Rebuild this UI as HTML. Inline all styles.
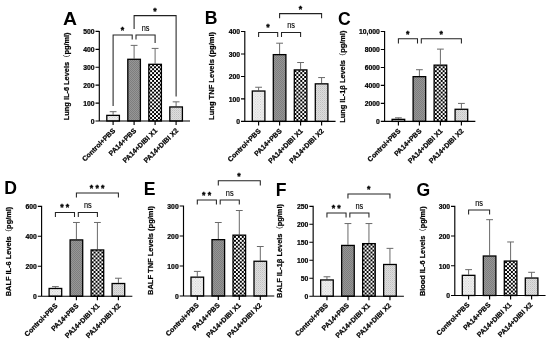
<!DOCTYPE html>
<html><head><meta charset="utf-8"><title>Figure</title>
<style>
html,body{margin:0;padding:0;background:#fff;}
body{width:550px;height:343px;overflow:hidden;}
svg{display:block;}
text{font-family:"Liberation Sans","Noto Sans CJK SC",sans-serif;fill:#000;}
.b{font-weight:bold;}
.s{stroke:#000;stroke-width:0.22;}
.ax{stroke:#000;stroke-width:1.15;fill:none;}
.er{stroke:#6a6a6a;stroke-width:1;fill:none;}
.br{stroke:#222;stroke-width:1.05;fill:none;}
.bar{stroke:#000;stroke-width:1.3;}
.st{stroke:#000;stroke-width:0.35;}
.fw{font-weight:normal;stroke:none;}
.ns{stroke:#000;stroke-width:0.12;}
</style></head><body>
<svg width="550" height="343" viewBox="0 0 550 343">
<defs>
<pattern id="p1" width="2.6" height="2.6" patternUnits="userSpaceOnUse"><rect width="2.6" height="2.6" fill="#f6f6f6"/><rect width="1" height="1" fill="#c4c4c4"/><rect x="1.3" y="1.3" width="1" height="1" fill="#c4c4c4"/></pattern>
<pattern id="p2" width="2" height="2" patternUnits="userSpaceOnUse"><rect width="2" height="2" fill="#969696"/><rect width="1" height="1" fill="#7e7e7e"/><rect x="1" y="1" width="1" height="1" fill="#7e7e7e"/></pattern>
<pattern id="p3" width="3.9" height="3.9" patternUnits="userSpaceOnUse"><rect width="3.9" height="3.9" fill="#000"/><rect width="1.95" height="1.95" fill="#fff"/><rect x="1.95" y="1.95" width="1.95" height="1.95" fill="#fff"/></pattern>
<pattern id="p4" width="2" height="2" patternUnits="userSpaceOnUse"><rect width="2" height="2" fill="#dedede"/><rect width="1" height="1" fill="#c2c2c2"/><rect x="1" y="1" width="1" height="1" fill="#cfcfcf"/></pattern>
</defs>
<rect width="550" height="343" fill="#fff"/>

<g>
<text class="b" transform="translate(62.9,24.8) scale(1.1,1)" font-size="17.6">A</text>
<text class="b s" transform="translate(69.2,120.15) rotate(-90)" font-size="7.38">Lung IL-6 Levels<tspan class="fw">（</tspan>pg/ml)</text>
<path class="er" d="M113.1 114.73V111.68M109.7 111.68H116.5"/>
<path class="er" d="M134.1 58.64V45.38M130.7 45.38H137.5"/>
<path class="er" d="M155.1 63.66V48.42M151.7 48.42H158.5"/>
<path class="er" d="M176.1 106.31V101.83M172.7 101.83H179.5"/>
<rect class="bar" x="106.8" y="115.38" width="12.6" height="5.62" fill="url(#p1)"/>
<rect class="bar" x="127.8" y="59.29" width="12.6" height="61.71" fill="url(#p2)"/>
<rect class="bar" x="148.8" y="64.31" width="12.6" height="56.69" fill="url(#p3)"/>
<rect class="bar" x="169.8" y="106.96" width="12.6" height="14.04" fill="url(#p4)"/>
<path class="ax" d="M99.3 30.9V121H190.05M99.3 121H95.5M99.3 103.08H95.5M99.3 85.16H95.5M99.3 67.24H95.5M99.3 49.32H95.5M99.3 31.4H95.5M113.1 121V125M134.1 121V125M155.1 121V125M176.1 121V125"/>
<text class="b s" x="94.5" y="123.95" text-anchor="end" font-size="6.8">0</text>
<text class="b s" x="94.5" y="106.03" text-anchor="end" font-size="6.8">100</text>
<text class="b s" x="94.5" y="88.11" text-anchor="end" font-size="6.8">200</text>
<text class="b s" x="94.5" y="70.19" text-anchor="end" font-size="6.8">300</text>
<text class="b s" x="94.5" y="52.27" text-anchor="end" font-size="6.8">400</text>
<text class="b s" x="94.5" y="34.35" text-anchor="end" font-size="6.8">500</text>
<text class="b s" transform="translate(115.7,131.1) rotate(-45)" text-anchor="end" font-size="7">Control+PBS</text>
<text class="b s" transform="translate(136.7,131.1) rotate(-45)" text-anchor="end" font-size="7">PA14+PBS</text>
<text class="b s" transform="translate(157.7,131.1) rotate(-45)" text-anchor="end" font-size="7">PA14+DIBI X1</text>
<text class="b s" transform="translate(178.7,131.1) rotate(-45)" text-anchor="end" font-size="7">PA14+DIBI X2</text>
<path class="br" d="M113.1 106V35H132.2V39.4"/>
<text class="b st" x="122.4" y="33" text-anchor="middle" font-size="8.8">*</text>
<path class="br" d="M136 39.4V35H155.1V43"/>
<text class="ns" transform="translate(145.55,30.5) scale(0.9,1)" text-anchor="middle" font-size="8.2">ns</text>
<path class="br" d="M134.1 29V15.6H176.1V96.6"/>
<text class="b st" x="154.85" y="13.6" text-anchor="middle" font-size="8.8">*</text>
</g>
<g>
<text class="b" transform="translate(204.8,24.4) scale(1,1)" font-size="17.6">B</text>
<text class="b s" transform="translate(214.2,119.95) rotate(-90)" font-size="7.55">Lung TNF Levels (pg/ml)</text>
<path class="er" d="M258.6 90.38V87.24M255.2 87.24H262"/>
<path class="er" d="M279.6 53.98V43.19M276.2 43.19H283"/>
<path class="er" d="M300.6 69.26V62.52M297.2 62.52H304"/>
<path class="er" d="M321.6 83.19V77.57M318.2 77.57H325"/>
<rect class="bar" x="252.3" y="91.03" width="12.6" height="30.37" fill="url(#p1)"/>
<rect class="bar" x="273.3" y="54.63" width="12.6" height="66.77" fill="url(#p2)"/>
<rect class="bar" x="294.3" y="69.91" width="12.6" height="51.49" fill="url(#p3)"/>
<rect class="bar" x="315.3" y="83.84" width="12.6" height="37.56" fill="url(#p4)"/>
<path class="ax" d="M244.8 31V121.4H335.55M244.8 121.4H241M244.8 98.93H241M244.8 76.45H241M244.8 53.98H241M244.8 31.5H241M258.6 121.4V125.4M279.6 121.4V125.4M300.6 121.4V125.4M321.6 121.4V125.4"/>
<text class="b s" x="240" y="124.35" text-anchor="end" font-size="6.8">0</text>
<text class="b s" x="240" y="101.88" text-anchor="end" font-size="6.8">100</text>
<text class="b s" x="240" y="79.4" text-anchor="end" font-size="6.8">200</text>
<text class="b s" x="240" y="56.93" text-anchor="end" font-size="6.8">300</text>
<text class="b s" x="240" y="34.45" text-anchor="end" font-size="6.8">400</text>
<text class="b s" transform="translate(261.2,131.5) rotate(-45)" text-anchor="end" font-size="7">Control+PBS</text>
<text class="b s" transform="translate(282.2,131.5) rotate(-45)" text-anchor="end" font-size="7">PA14+PBS</text>
<text class="b s" transform="translate(303.2,131.5) rotate(-45)" text-anchor="end" font-size="7">PA14+DIBI X1</text>
<text class="b s" transform="translate(324.2,131.5) rotate(-45)" text-anchor="end" font-size="7">PA14+DIBI X2</text>
<path class="br" d="M258.6 37V32.4H277.7V37"/>
<text class="b st" x="267.9" y="30.4" text-anchor="middle" font-size="8.8">*</text>
<path class="br" d="M281.5 37V32.4H300.6V37"/>
<text class="ns" transform="translate(291.05,27.9) scale(0.9,1)" text-anchor="middle" font-size="8.2">ns</text>
<path class="br" d="M279.6 18.2V13.6H321.6V18.2"/>
<text class="b st" x="300.35" y="11.6" text-anchor="middle" font-size="8.8">*</text>
</g>
<g>
<text class="b" transform="translate(337.9,24.6) scale(1,1)" font-size="17.6">C</text>
<text class="b s" transform="translate(345,122.85) rotate(-90)" font-size="7.38">Lung IL-1β Levels<tspan class="fw">（</tspan>pg/ml)</text>
<path class="er" d="M398.4 118.7V117.8M395 117.8H401.8"/>
<path class="er" d="M419.4 76V69.71M416 69.71H422.8"/>
<path class="er" d="M440.4 64.49V49.12M437 49.12H443.8"/>
<path class="er" d="M461.4 108.63V103.42M458 103.42H464.8"/>
<rect class="bar" x="392.1" y="119.35" width="12.6" height="2.05" fill="url(#p1)"/>
<rect class="bar" x="413.1" y="76.65" width="12.6" height="44.75" fill="url(#p2)"/>
<rect class="bar" x="434.1" y="65.14" width="12.6" height="56.26" fill="url(#p3)"/>
<rect class="bar" x="455.1" y="109.28" width="12.6" height="12.12" fill="url(#p4)"/>
<path class="ax" d="M384.6 31V121.4H475.35M384.6 121.4H380.8M384.6 103.42H380.8M384.6 85.44H380.8M384.6 67.46H380.8M384.6 49.48H380.8M384.6 31.5H380.8M398.4 121.4V125.4M419.4 121.4V125.4M440.4 121.4V125.4M461.4 121.4V125.4"/>
<text class="b s" x="379.8" y="124.35" text-anchor="end" font-size="6.8">0</text>
<text class="b s" x="379.8" y="106.37" text-anchor="end" font-size="6.8">2000</text>
<text class="b s" x="379.8" y="88.39" text-anchor="end" font-size="6.8">4000</text>
<text class="b s" x="379.8" y="70.41" text-anchor="end" font-size="6.8">6000</text>
<text class="b s" x="379.8" y="52.43" text-anchor="end" font-size="6.8">8000</text>
<text class="b s" x="379.8" y="34.45" text-anchor="end" font-size="6.8">10,000</text>
<text class="b s" transform="translate(401,131.5) rotate(-45)" text-anchor="end" font-size="7">Control+PBS</text>
<text class="b s" transform="translate(422,131.5) rotate(-45)" text-anchor="end" font-size="7">PA14+PBS</text>
<text class="b s" transform="translate(443,131.5) rotate(-45)" text-anchor="end" font-size="7">PA14+DIBI X1</text>
<text class="b s" transform="translate(464,131.5) rotate(-45)" text-anchor="end" font-size="7">PA14+DIBI X2</text>
<path class="br" d="M398.4 43.6V38.8H417.5V43.6"/>
<text class="b st" x="407.7" y="36.8" text-anchor="middle" font-size="8.8">*</text>
<path class="br" d="M421.3 43.6V38.8H461.4V43.6"/>
<text class="b st" x="441.1" y="36.8" text-anchor="middle" font-size="8.8">*</text>
</g>
<g>
<text class="b" transform="translate(4.2,194.3) scale(1,1)" font-size="17.6">D</text>
<text class="b s" transform="translate(10.6,296.25) rotate(-90)" font-size="7.4">BALF IL-6 Levels<tspan class="fw">（</tspan>pg/ml)</text>
<path class="er" d="M55.4 287.81V286.61M52 286.61H58.8"/>
<path class="er" d="M76.4 239.26V222.48M73 222.48H79.8"/>
<path class="er" d="M97.4 249.3V222.48M94 222.48H100.8"/>
<path class="er" d="M118.4 282.86V278.22M115 278.22H121.8"/>
<rect class="bar" x="49.1" y="288.46" width="12.6" height="7.74" fill="url(#p1)"/>
<rect class="bar" x="70.1" y="239.91" width="12.6" height="56.29" fill="url(#p2)"/>
<rect class="bar" x="91.1" y="249.95" width="12.6" height="46.25" fill="url(#p3)"/>
<rect class="bar" x="112.1" y="283.51" width="12.6" height="12.69" fill="url(#p4)"/>
<path class="ax" d="M41.6 205.8V296.2H132.35M41.6 296.2H37.8M41.6 266.23H37.8M41.6 236.27H37.8M41.6 206.3H37.8M55.4 296.2V300.2M76.4 296.2V300.2M97.4 296.2V300.2M118.4 296.2V300.2"/>
<text class="b s" x="36.8" y="299.15" text-anchor="end" font-size="6.8">0</text>
<text class="b s" x="36.8" y="269.18" text-anchor="end" font-size="6.8">200</text>
<text class="b s" x="36.8" y="239.22" text-anchor="end" font-size="6.8">400</text>
<text class="b s" x="36.8" y="209.25" text-anchor="end" font-size="6.8">600</text>
<text class="b s" transform="translate(58,306.3) rotate(-45)" text-anchor="end" font-size="7">Control+PBS</text>
<text class="b s" transform="translate(79,306.3) rotate(-45)" text-anchor="end" font-size="7">PA14+PBS</text>
<text class="b s" transform="translate(100,306.3) rotate(-45)" text-anchor="end" font-size="7">PA14+DIBI X1</text>
<text class="b s" transform="translate(121,306.3) rotate(-45)" text-anchor="end" font-size="7">PA14+DIBI X2</text>
<path class="br" d="M55.4 217V212.4H74.5V217"/>
<text class="b st" x="61.9" y="210.4" text-anchor="middle" font-size="8.8">*</text>
<text class="b st" x="67.5" y="210.4" text-anchor="middle" font-size="8.8">*</text>
<path class="br" d="M78.3 217V212.4H97.4V217"/>
<text class="ns" transform="translate(87.85,207.9) scale(0.9,1)" text-anchor="middle" font-size="8.2">ns</text>
<path class="br" d="M76.4 197.6V193H118.4V197.6"/>
<text class="b st" x="91.55" y="191" text-anchor="middle" font-size="8.8">*</text>
<text class="b st" x="97.15" y="191" text-anchor="middle" font-size="8.8">*</text>
<text class="b st" x="102.75" y="191" text-anchor="middle" font-size="8.8">*</text>
</g>
<g>
<text class="b" transform="translate(143.8,195) scale(1,1)" font-size="17.6">E</text>
<text class="b s" transform="translate(152.6,294.95) rotate(-90)" font-size="7.49">BALF TNF Levels (pg/ml)</text>
<path class="er" d="M197.3 276.5V271.4M193.9 271.4H200.7"/>
<path class="er" d="M218.3 239V222.5M214.9 222.5H221.7"/>
<path class="er" d="M239.3 234.5V210.5M235.9 210.5H242.7"/>
<path class="er" d="M260.3 260.6V246.5M256.9 246.5H263.7"/>
<rect class="bar" x="191" y="277.15" width="12.6" height="18.85" fill="url(#p1)"/>
<rect class="bar" x="212" y="239.65" width="12.6" height="56.35" fill="url(#p2)"/>
<rect class="bar" x="233" y="235.15" width="12.6" height="60.85" fill="url(#p3)"/>
<rect class="bar" x="254" y="261.25" width="12.6" height="34.75" fill="url(#p4)"/>
<path class="ax" d="M183.5 205.5V296H274.25M183.5 296H179.7M183.5 266H179.7M183.5 236H179.7M183.5 206H179.7M197.3 296V300M218.3 296V300M239.3 296V300M260.3 296V300"/>
<text class="b s" x="178.7" y="298.95" text-anchor="end" font-size="6.8">0</text>
<text class="b s" x="178.7" y="268.95" text-anchor="end" font-size="6.8">100</text>
<text class="b s" x="178.7" y="238.95" text-anchor="end" font-size="6.8">200</text>
<text class="b s" x="178.7" y="208.95" text-anchor="end" font-size="6.8">300</text>
<text class="b s" transform="translate(199.2,305.8) rotate(-45)" text-anchor="end" font-size="7">Control+PBS</text>
<text class="b s" transform="translate(220.2,305.8) rotate(-45)" text-anchor="end" font-size="7">PA14+PBS</text>
<text class="b s" transform="translate(241.2,305.8) rotate(-45)" text-anchor="end" font-size="7">PA14+DIBI X1</text>
<text class="b s" transform="translate(262.2,305.8) rotate(-45)" text-anchor="end" font-size="7">PA14+DIBI X2</text>
<path class="br" d="M197.3 204.6V200H216.4V204.6"/>
<text class="b st" x="203.8" y="198" text-anchor="middle" font-size="8.8">*</text>
<text class="b st" x="209.4" y="198" text-anchor="middle" font-size="8.8">*</text>
<path class="br" d="M220.2 204.6V200H239.3V204.6"/>
<text class="ns" transform="translate(229.75,195.5) scale(0.9,1)" text-anchor="middle" font-size="8.2">ns</text>
<path class="br" d="M218.3 185.5V180.7H260.3V185.5"/>
<text class="b st" x="239.05" y="178.7" text-anchor="middle" font-size="8.8">*</text>
</g>
<g>
<text class="b" transform="translate(275.8,195.7) scale(1,1)" font-size="17.6">F</text>
<text class="b s" transform="translate(281.5,297.95) rotate(-90)" font-size="7.39">BALF IL-1β Levels<tspan class="fw">（</tspan>pg/ml)</text>
<path class="er" d="M326.95 279.3V276.78M323.55 276.78H330.35"/>
<path class="er" d="M347.95 244.78V223.56M344.55 223.56H351.35"/>
<path class="er" d="M368.95 242.98V223.56M365.55 223.56H372.35"/>
<path class="er" d="M389.95 263.84V248.37M386.55 248.37H393.35"/>
<rect class="bar" x="320.65" y="279.95" width="12.6" height="16.25" fill="url(#p1)"/>
<rect class="bar" x="341.65" y="245.43" width="12.6" height="50.77" fill="url(#p2)"/>
<rect class="bar" x="362.65" y="243.63" width="12.6" height="52.57" fill="url(#p3)"/>
<rect class="bar" x="383.65" y="264.49" width="12.6" height="31.71" fill="url(#p4)"/>
<path class="ax" d="M313.15 205.8V296.2H403.9M313.15 296.2H309.35M313.15 278.22H309.35M313.15 260.24H309.35M313.15 242.26H309.35M313.15 224.28H309.35M313.15 206.3H309.35M326.95 296.2V300.2M347.95 296.2V300.2M368.95 296.2V300.2M389.95 296.2V300.2"/>
<text class="b s" x="308.35" y="299.15" text-anchor="end" font-size="6.8">0</text>
<text class="b s" x="308.35" y="281.17" text-anchor="end" font-size="6.8">50</text>
<text class="b s" x="308.35" y="263.19" text-anchor="end" font-size="6.8">100</text>
<text class="b s" x="308.35" y="245.21" text-anchor="end" font-size="6.8">150</text>
<text class="b s" x="308.35" y="227.23" text-anchor="end" font-size="6.8">200</text>
<text class="b s" x="308.35" y="209.25" text-anchor="end" font-size="6.8">250</text>
<text class="b s" transform="translate(328.55,305.9) rotate(-45)" text-anchor="end" font-size="7">Control+PBS</text>
<text class="b s" transform="translate(349.55,305.9) rotate(-45)" text-anchor="end" font-size="7">PA14+PBS</text>
<text class="b s" transform="translate(370.55,305.9) rotate(-45)" text-anchor="end" font-size="7">PA14+DIBI X1</text>
<text class="b s" transform="translate(391.55,305.9) rotate(-45)" text-anchor="end" font-size="7">PA14+DIBI X2</text>
<path class="br" d="M326.95 217.6V213H346.05V217.6"/>
<text class="b st" x="333.45" y="211" text-anchor="middle" font-size="8.8">*</text>
<text class="b st" x="339.05" y="211" text-anchor="middle" font-size="8.8">*</text>
<path class="br" d="M349.85 217.6V213H368.95V217.6"/>
<text class="ns" transform="translate(359.4,208.5) scale(0.9,1)" text-anchor="middle" font-size="8.2">ns</text>
<path class="br" d="M347.95 198.4V194H389.95V198.4"/>
<text class="b st" x="368.7" y="192" text-anchor="middle" font-size="8.8">*</text>
</g>
<g>
<text class="b" transform="translate(416.6,195.9) scale(1,1)" font-size="17.6">G</text>
<text class="b s" transform="translate(424.6,296.05) rotate(-90)" font-size="7.3">Blood IL-6 Levels<tspan class="fw">（</tspan>pg/ml)</text>
<path class="er" d="M468.6 274.69V269.63M465.2 269.63H472"/>
<path class="er" d="M489.6 255.36V219.68M486.2 219.68H493"/>
<path class="er" d="M510.6 260.41V241.98M507.2 241.98H514"/>
<path class="er" d="M531.6 277.36V272.31M528.2 272.31H535"/>
<rect class="bar" x="462.3" y="275.34" width="12.6" height="20.16" fill="url(#p1)"/>
<rect class="bar" x="483.3" y="256.01" width="12.6" height="39.49" fill="url(#p2)"/>
<rect class="bar" x="504.3" y="261.06" width="12.6" height="34.44" fill="url(#p3)"/>
<rect class="bar" x="525.3" y="278.01" width="12.6" height="17.49" fill="url(#p4)"/>
<path class="ax" d="M454.8 205.8V295.5H545.55M454.8 295.5H451M454.8 265.77H451M454.8 236.03H451M454.8 206.3H451M468.6 295.5V299.5M489.6 295.5V299.5M510.6 295.5V299.5M531.6 295.5V299.5"/>
<text class="b s" x="450" y="298.45" text-anchor="end" font-size="6.8">0</text>
<text class="b s" x="450" y="268.72" text-anchor="end" font-size="6.8">100</text>
<text class="b s" x="450" y="238.98" text-anchor="end" font-size="6.8">200</text>
<text class="b s" x="450" y="209.25" text-anchor="end" font-size="6.8">300</text>
<text class="b s" transform="translate(470,305.3) rotate(-45)" text-anchor="end" font-size="7">Control+PBS</text>
<text class="b s" transform="translate(491,305.3) rotate(-45)" text-anchor="end" font-size="7">PA14+PBS</text>
<text class="b s" transform="translate(512,305.3) rotate(-45)" text-anchor="end" font-size="7">PA14+DIBI X1</text>
<text class="b s" transform="translate(533,305.3) rotate(-45)" text-anchor="end" font-size="7">PA14+DIBI X2</text>
<path class="br" d="M468.6 214.4V210H489.6V214.4"/>
<text class="ns" transform="translate(479.1,205.5) scale(0.9,1)" text-anchor="middle" font-size="8.2">ns</text>
</g>
</svg></body></html>
